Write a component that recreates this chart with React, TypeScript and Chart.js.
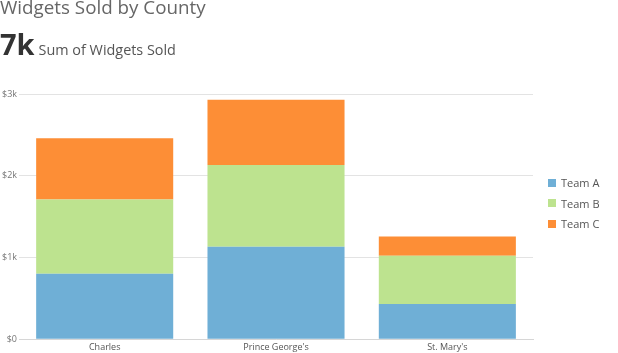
import React, { useEffect, useRef } from "react";
import { Chart, registerables } from "chart.js";

Chart.register(...registerables);

const counties = ["Charles", "Prince George's", "St. Mary's"];
const teamA = [800, 1130, 430];
const teamB = [910, 1000, 590];
const teamC = [750, 800, 235];
const seriesNames = ["Team A", "Team B", "Team C"];
const seriesColors = ["#6fafd6", "#bde38f", "#fd8e36"];
const yTicks = [0, 1000, 2000, 3000];

export default function App() {
  const ref = useRef<HTMLCanvasElement | null>(null);
  useEffect(() => {
    document.body.style.margin = "0";
    const ctx = ref.current!;
    const chart = new Chart(ctx, {
      type: "bar",
      data: {
        labels: counties,
        datasets: [teamA, teamB, teamC].map((d, i) => ({
          label: seriesNames[i],
          data: d,
          backgroundColor: seriesColors[i],
          borderWidth: 0,
          categoryPercentage: 0.8,
          barPercentage: 1,
        })),
      },
      options: {
        responsive: false,
        animation: false,
        layout: { padding: { top: 94, right: 85, left: 0, bottom: 0 } },
        plugins: { legend: { display: false }, tooltip: { enabled: false } },
        scales: {
          x: {
            stacked: true,
            grid: { display: false, drawTicks: false },
            border: { display: true, color: "#d6d6d6" },
            ticks: {
              color: "#555",
              font: { family: "Open Sans", size: 9 },
              padding: 3,
            },
          },
          y: {
            stacked: true,
            min: 0,
            max: 3000,
            afterBuildTicks: (axis: any) => {
              axis.ticks = yTicks.map((v) => ({ value: v }));
            },
            grid: { color: "#e3e3e3", drawTicks: false },
            border: { display: false },
            ticks: {
              color: "#777",
              font: { family: "Open Sans", size: 9 },
              padding: 2,
              callback: (v: any) => (v === 0 ? "$0" : "$" + v / 1000 + "k"),
            },
          },
        },
      },
    });
    return () => chart.destroy();
  }, []);
  return (
    <div style={{ position: "absolute", left: 0, top: 0, width: 618, height: 353, overflow: "hidden", fontFamily: "'Open Sans', sans-serif" }}>
      <canvas ref={ref} width={618} height={356} style={{ position: "absolute", left: 0, top: 0 }} />
      <div style={{ position: "absolute", left: 0, top: -6, fontSize: 18.8, color: "#666", fontWeight: 400, whiteSpace: "nowrap" }}>
        Widgets Sold by County
      </div>
      <div style={{ position: "absolute", left: 0, top: 24, whiteSpace: "nowrap", color: "#333" }}>
        <span style={{ fontSize: 29, fontWeight: 700 }}>7k</span>
        <span style={{ fontSize: 14.4, color: "#555", marginLeft: 4 }}>Sum of Widgets Sold</span>
      </div>
      {seriesNames.map((n, i) => (
        <div key={n} style={{ position: "absolute", left: 548, top: 175 + i * 20.5, display: "flex", alignItems: "center", fontSize: 11, color: "#555" }}>
          <span style={{ width: 8, height: 8, background: seriesColors[i], display: "inline-block", marginRight: 5 }} />
          {n}
        </div>
      ))}
    </div>
  );
}
